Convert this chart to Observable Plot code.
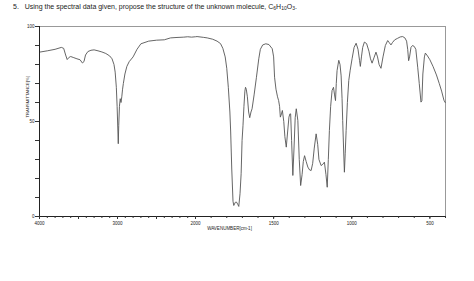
<!DOCTYPE html>
<html><head><meta charset="utf-8">
<script src="https://cdn.jsdelivr.net/npm/d3@7"></script>
<script src="https://cdn.jsdelivr.net/npm/@observablehq/plot@0.6"></script>
<style>
body{margin:0;background:#fff;}
#wrap{position:relative;width:474px;height:281px;overflow:hidden;}
#title{position:absolute;left:13px;top:3px;font:7px "Liberation Sans",Arial,sans-serif;color:#222;white-space:nowrap;}
#title sub{font-size:5px;vertical-align:-1px;}
</style></head><body>
<div id="wrap"><div id="title">5.&nbsp;&nbsp; Using the spectral data given, propose the structure of the unknown molecule, C<sub>6</sub>H<sub>10</sub>O<sub>3</sub>.</div><div id="chart"></div></div>
<script>
const wavenumber = [4000,3900,3800,3720,3690,3665,3645,3620,3600,3560,3520,3480,3450,3430,3410,3380,3340,3300,3250,3200,3150,3100,3070,3045,3030,3015,3005,2995,2990,2984,2975,2965,2955,2945,2935,2925,2905,2880,2850,2800,2750,2700,2600,2500,2400,2320,2250,2150,2100,2050,2000,
1990,1950,1925,1890,1862,1840,1825,1810,1800,1790,1780,1775,1768,1760,1755,1745,1738,1730,1723,1715,1708,1702,1696,1690,1684,1680,1675,1668,1660,1653,1645,1638,1625,1610,1595,1585,1570,1550,1530,1509,1500,1494,1485,1475,1468,1462,1457,1450,1444,1435,1428,1419,1410,1402,1396,1391,1385,1377,1370,1362,1355,1345,1336,1327,1318,1310,1302,1292,1281,1270,1260,1250,1240,1228,1218,1210,1196,1185,1175,1165,1157,1150,1143,1135,1126,1117,1110,1104,1099,1094,1083,1075,1068,1062,1058,1052,1047,1042,1036,1028,1019,1010,998,985,972,960,950,945,938,930,919,905,890,880,870,858,845,835,825,813,800,785,770,760,749,740,725,706,690,674,660,649,642,636,630,621,611,600,590,578,568,557,551,545,535,529,515,500,480,458,440,425,410,402];
const transmittance = [86.5,87.2,88,89,88.5,85,82.6,83.8,84.2,83.6,83,82.5,80.8,81.5,85,86.8,87.5,87.7,87.2,86.6,85.8,84.5,83,80,76,68,58,45,38.3,48,58,62,60,63,67,70,75,79,81.5,84,88,90.9,92.3,92.8,93,94,94.2,94.4,94.6,94.4,94.6,
94.7,94.3,94,93.3,92.3,91,88.5,84,78,68,55,45,25,8,5.8,7.5,7.6,6.5,5.3,12,22.5,40,48,58,66,68,67,63,55,52,55,56.7,64,73.3,83,88,90.3,90.9,90.5,88.3,84,73.3,67,63,61,58,52.3,54,55.8,50,42,36.5,45,52.3,54,54,40,21.6,35,52,56.7,50.5,30,16.3,22,29,32,29,26,24.5,24.2,28,36,43.5,38,30,26.8,27.5,28.6,22,15.4,30,45.3,58,66.3,68,64,61,70,76.8,82.2,80,74,62,50.5,35,23.3,33,45.3,60,71.6,77,83,89,91.2,88,82,79,84,89,91.8,91,87,83,80.7,83.5,86.5,84,80,78,84,90,92.6,91.5,90.3,91.5,93,93.8,94.5,94.7,94,92.3,88,82,84,89,90,89.5,88,78.6,70,60.2,61,75,84,86,84.5,82.5,79,74.5,70,66,61.2,60];
const minorTicks = d3.range(400, 4001, 100);
const majorTicks = [4000,3500,3000,2500,2000,1500,1000,500];
const xTickLabels = [4000,3000,2000,1500,1000,500];
const yTicks = d3.range(0, 101, 10);
const yTickLabels = [0,50,100];
const xTitle = "WAVENUMBER[cm-1]";
const yTitle = "TRANSMITTANCE[%]";

const data = wavenumber.map((w,i)=>({w, t: transmittance[i]}));
const chart = Plot.plot({
  width: 474, height: 281,
  marginLeft: 39, marginRight: 29, marginTop: 26, marginBottom: 65,
  style: {fontFamily: "Liberation Sans, Arial, sans-serif", fontSize: "4.5px", color: "#222", background: "#fff"},
  x: {type: "linear", domain: [4000, 2000, 400], range: [39, 195, 445], label: null},
  y: {domain: [0, 100], label: null},
  marks: [
    Plot.frame({stroke: "#999", strokeWidth: 1}),
    Plot.line(data, {x: "w", y: "t", stroke: "#555", strokeWidth: 0.9, curve: "linear"}),
    Plot.ruleX([4000], {stroke: "#222"}),
    Plot.ruleY([0], {stroke: "#222"}),
    Plot.axisX({ticks: minorTicks, tickSize: 2, tickFormat: () => "", stroke: "#333"}),
    Plot.axisX({ticks: majorTicks, tickSize: 3, tickPadding: 2, tickFormat: d => xTickLabels.includes(d) ? String(d) : "", stroke: "#333"}),
    Plot.axisY({ticks: yTicks, tickSize: 4, tickPadding: 1, tickFormat: d => yTickLabels.includes(d) ? String(d) : "", stroke: "#333"}),
    Plot.text([xTitle], {frameAnchor: "bottom", dx: -13, dy: 13, fontSize: 4.5}),
    Plot.text([yTitle], {frameAnchor: "left", rotate: -90, dx: -12, dy: -4, fontSize: 4.2})
  ]
});
document.getElementById("chart").appendChild(chart);
</script>
</body></html>
